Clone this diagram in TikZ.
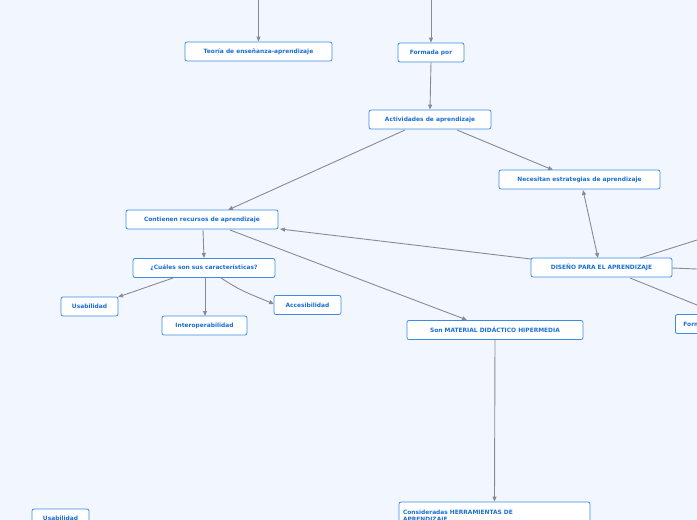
\documentclass[tikz,border=0pt]{standalone}
\usepackage{fontspec}
\setmainfont{DejaVu Sans}
\usetikzlibrary{arrows.meta}
\definecolor{bg}{HTML}{F2F6FE}
\definecolor{bd}{HTML}{3C8CE6}
\definecolor{tx}{HTML}{1A6FD6}
\definecolor{ln}{HTML}{8A8A96}
\begin{document}
\begin{tikzpicture}[x=1pt,y=-1pt,
  box/.style={draw=bd,line width=0.8pt,rounded corners=2pt,fill=white,text=tx,font=\bfseries\fontsize{5.9}{7.2}\selectfont,inner xsep=0pt,inner ysep=0pt,minimum height=19pt},
  con/.style={draw=ln,line width=0.9pt,-{Triangle[length=5pt,width=4pt]}},
  lin/.style={draw=ln,line width=0.9pt}]
\fill[bg] (0,0) rectangle (697,520);
\useasboundingbox (0,0) rectangle (697,520);
\clip (0,0) rectangle (697,520);
\node[box,minimum width=147pt] (teo) at (258.5,51.5) {Teoría de enseñanza-aprendizaje};
\node[box,minimum width=66pt] (for) at (431,52.5) {Formada por};
\node[box,minimum width=122pt] (act) at (430,119.5) {Actividades de aprendizaje};
\node[box,minimum width=161pt] (nec) at (579.5,179.5) {Necesitan estrategias de aprendizaje};
\node[box,minimum width=152pt] (con) at (202,219.5) {Contienen recursos de aprendizaje};
\node[box,minimum width=141pt] (dis) at (601.5,267.5) {DISEÑO PARA EL APRENDIZAJE};
\node[box,minimum width=142pt] (cua) at (204,268) {¿Cuáles son sus características?};
\node[box,minimum width=57pt] (usa) at (89.5,306.5) {Usabilidad};
\node[box,minimum width=67pt] (acc) at (307.5,305) {Accesibilidad};
\node[box,minimum width=85pt] (int) at (204.5,325.5) {Interoperabilidad};
\node[box,minimum width=176pt] (son) at (495,330) {Son MATERIAL DIDÁCTICO HIPERMEDIA};
\node[box,minimum width=191pt,minimum height=28pt,align=left,text width=183pt,inner xsep=4pt] (cons) at (494.5,516) {Consideradas HERRAMIENTAS DE\\APRENDIZAJE};
\node[box,minimum width=57pt] (usa2) at (60.5,518.5) {Usabilidad};
\node[box,minimum width=50pt,anchor=west] (fo) at (675,324) {\hspace*{8pt}Formas\hspace*{20pt}};
\coordinate (t1) at (258.5,0);
\coordinate (t2) at (431,0);
\draw[con] (t1) -- (teo.north);
\draw[con] (t2) -- (for.north);
\draw[con] (for.south) -- (act.north);
\draw[con] (405,130) -- (228,210);
\draw[con] (457,130) -- (553,170);
\draw[draw=ln,line width=0.9pt,{Triangle[length=5pt,width=4pt]}-{Triangle[length=5pt,width=4pt]}] (583,190) -- (598,258);
\draw[con] (531,259) -- (280,229);
\draw[lin] (640,258) -- (697,240);
\draw[lin] (672,268) -- (697,269);
\draw[lin] (630,278) -- (697,305);
\draw[con] (203,230) -- (204,258);
\draw[con] (173,278) -- (118,297);
\draw[con] (205,278) -- (205,316);
\draw[con] (221,278) .. controls (240,290) .. (274,304);
\draw[con] (230,230) -- (467,320);
\draw[con] (son.south) -- (cons.north);
\end{tikzpicture}
\end{document}
